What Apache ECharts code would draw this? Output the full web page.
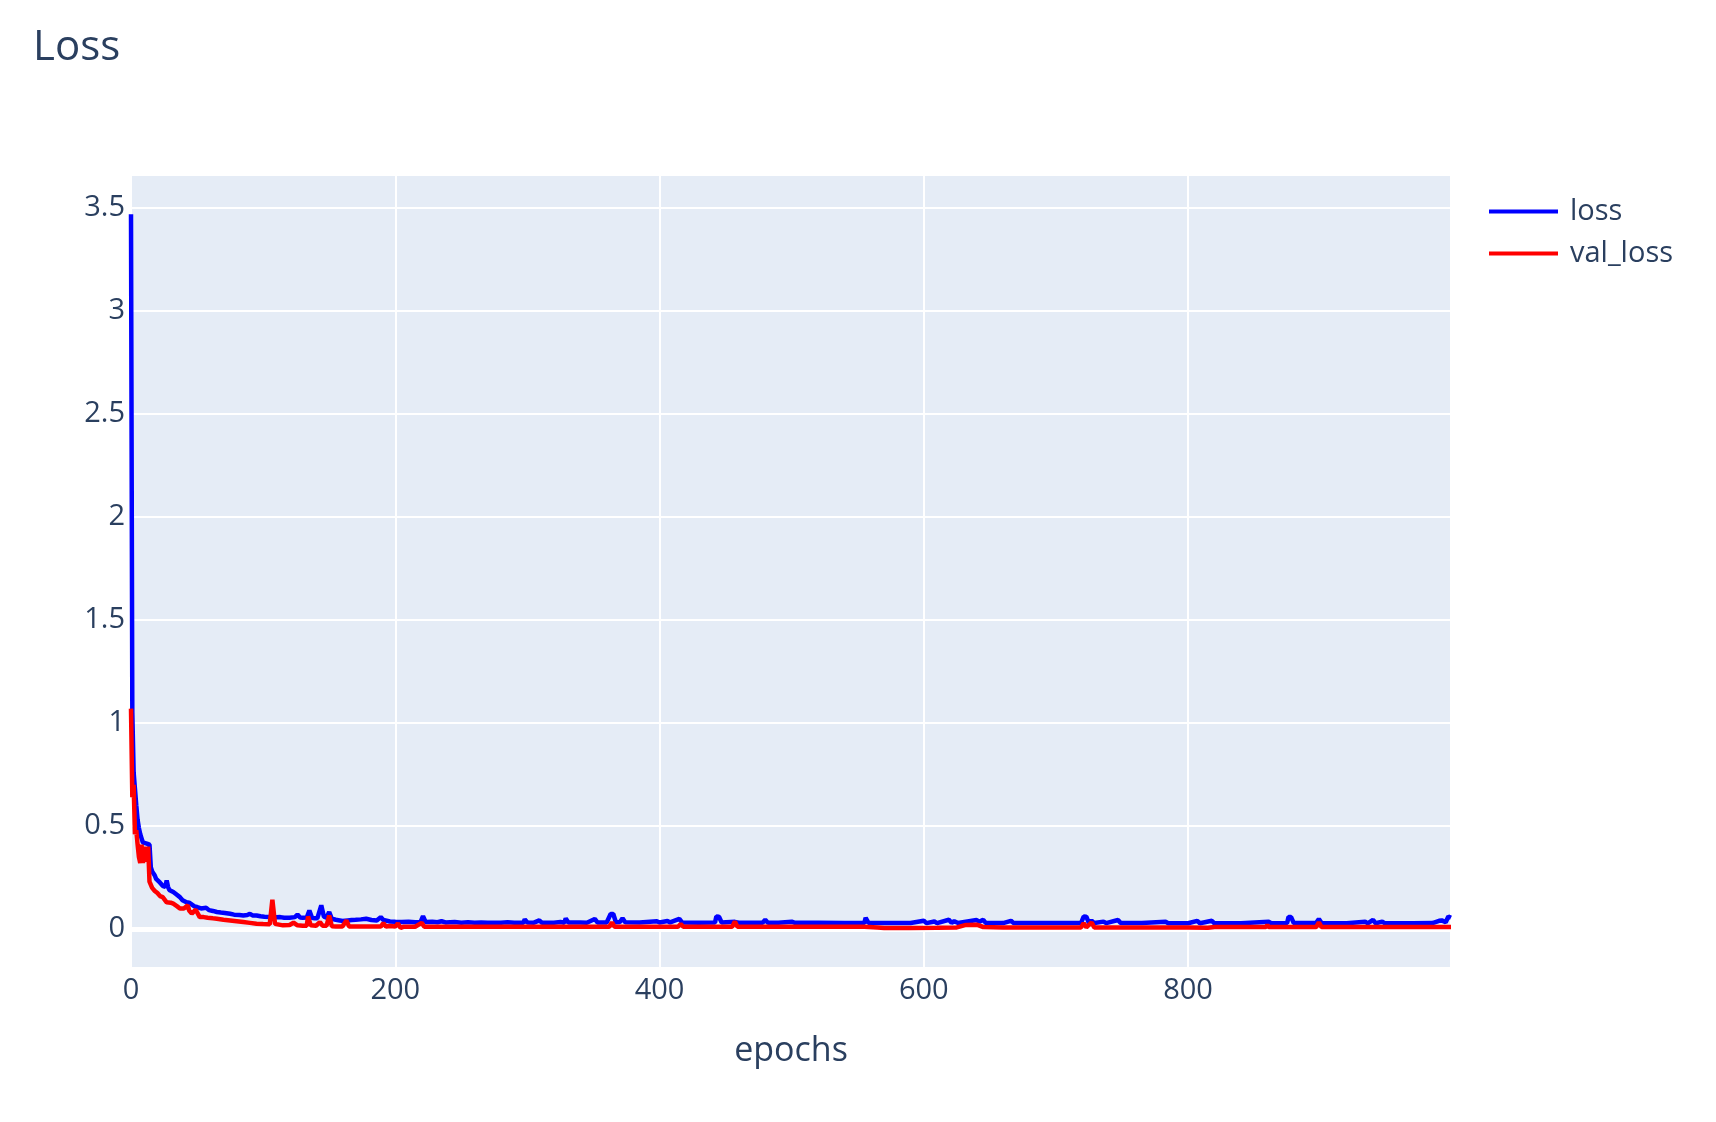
<!DOCTYPE html>
<html>
<head>
<meta charset="utf-8">
<script src="https://cdn.jsdelivr.net/npm/echarts@6.0.0/dist/echarts.min.js"></script>
<style>
html,body{margin:0;padding:0;background:#fff;}
#chart{width:1716px;height:1122px;}
</style>
</head>
<body>
<div id="chart"></div>
<script>
const titleText = "Loss";
const xAxisName = "epochs";
const seriesNames = ["loss", "val_loss"];

const lossEpochs = [0,1,2,3,4,5,6,7,8,9,10,12,14,15,16,18,19,22,24,26,27,28,29,32,34,37,39,42,44,45,48,50,53,57,59,62,65,68,71,75,78,82,85,88,90,92,95,98,101,105,108,110,113,116,120,124,126,128,130,133,135,137,139,141,144,146,148,150,152,155,158,160,164,167,170,174,178,182,186,189,191,196,200,205,210,215,219,221,223,228,232,235,238,245,250,255,260,265,270,280,285,290,297,298,300,305,309,311,320,325,328,329,331,340,345,351,353,360,363,365,367,370,372,374,385,398,400,406,408,415,417,430,442,443,445,447,457,460,478,480,482,490,500,502,520,540,555,556,558,570,590,600,602,608,610,619,621,623,626,640,642,645,647,660,666,668,690,705,719,721,723,725,727,729,736,738,747,749,765,783,785,800,807,809,818,820,840,861,863,875,876,878,880,897,899,901,920,934,936,940,942,947,949,970,985,990,992,995,997,999];
const lossValues = [3.47,1.05,0.76,0.68,0.6,0.53,0.49,0.46,0.44,0.42,0.415,0.415,0.41,0.30,0.28,0.26,0.244,0.225,0.21,0.205,0.236,0.205,0.19,0.18,0.17,0.155,0.14,0.13,0.128,0.12,0.11,0.107,0.1,0.103,0.092,0.088,0.083,0.08,0.078,0.074,0.07,0.068,0.066,0.068,0.074,0.066,0.066,0.062,0.06,0.058,0.06,0.057,0.058,0.055,0.055,0.058,0.07,0.056,0.055,0.056,0.09,0.055,0.052,0.052,0.115,0.06,0.055,0.083,0.05,0.045,0.042,0.039,0.042,0.044,0.045,0.047,0.05,0.044,0.042,0.058,0.044,0.037,0.035,0.034,0.036,0.033,0.033,0.063,0.034,0.036,0.033,0.038,0.032,0.034,0.031,0.033,0.031,0.032,0.031,0.031,0.033,0.031,0.031,0.047,0.032,0.031,0.042,0.031,0.031,0.034,0.031,0.052,0.032,0.032,0.031,0.049,0.032,0.032,0.073,0.073,0.033,0.034,0.052,0.033,0.032,0.038,0.032,0.039,0.032,0.049,0.032,0.031,0.032,0.061,0.06,0.032,0.035,0.031,0.031,0.045,0.031,0.031,0.036,0.031,0.031,0.030,0.030,0.055,0.031,0.030,0.029,0.040,0.029,0.037,0.029,0.045,0.03,0.038,0.029,0.044,0.035,0.045,0.029,0.029,0.04,0.029,0.029,0.029,0.029,0.061,0.06,0.029,0.04,0.029,0.036,0.029,0.044,0.029,0.029,0.035,0.028,0.028,0.04,0.028,0.04,0.028,0.028,0.035,0.028,0.03,0.058,0.058,0.029,0.03,0.049,0.029,0.028,0.036,0.028,0.045,0.028,0.036,0.028,0.028,0.029,0.04,0.042,0.033,0.061,0.055];

const valLossEpochs = [0,1,2,3,4,5,6,7,8,9,10,11,12,13,14,16,18,20,22,24,27,30,32,35,37,40,43,44,46,49,52,55,58,62,65,70,75,80,85,90,95,100,105,107,109,110,115,120,123,126,130,133,134,136,140,143,145,148,150,152,155,160,163,165,170,180,189,191,193,196,200,202,204,206,215,220,222,240,260,280,300,320,340,362,364,366,380,400,414,416,418,440,455,457,459,480,520,555,565,570,590,610,625,632,640,645,660,700,719,721,723,727,729,760,800,815,820,859,860,861,897,899,901,940,970,999];
const valLossValues = [1.07,0.64,0.7,0.46,0.48,0.41,0.35,0.32,0.41,0.32,0.40,0.34,0.33,0.40,0.23,0.2,0.185,0.175,0.16,0.155,0.13,0.128,0.123,0.11,0.1,0.1,0.115,0.09,0.075,0.094,0.058,0.058,0.055,0.052,0.05,0.045,0.042,0.038,0.034,0.03,0.026,0.024,0.023,0.142,0.025,0.018,0.018,0.02,0.031,0.018,0.016,0.016,0.061,0.018,0.016,0.034,0.016,0.016,0.066,0.014,0.013,0.013,0.042,0.013,0.012,0.012,0.012,0.029,0.012,0.015,0.012,0.028,0.006,0.011,0.011,0.03,0.011,0.011,0.011,0.011,0.011,0.011,0.011,0.011,0.032,0.011,0.011,0.011,0.011,0.025,0.011,0.011,0.011,0.036,0.011,0.011,0.011,0.011,0.008,0.005,0.005,0.006,0.008,0.02,0.021,0.01,0.008,0.008,0.008,0.029,0.008,0.032,0.008,0.008,0.007,0.006,0.01,0.01,0.02,0.01,0.01,0.032,0.01,0.01,0.01,0.01];

const toPairs = (xs, ys) => xs.map((x, i) => [x, ys[i]]);

const textColor = "#2a3f5f";
const fontFamily = "'Open Sans', verdana, arial, sans-serif";

const chart = echarts.init(document.getElementById('chart'), null, {renderer: 'canvas'});
chart.setOption({
  animation: false,
  backgroundColor: '#ffffff',
  textStyle: {fontFamily: fontFamily, color: textColor},
  title: {
    text: titleText,
    left: 28,
    top: 22,
    textStyle: {fontFamily: fontFamily, fontSize: 42, fontWeight: 'normal', color: textColor}
  },
  legend: {
    orient: 'vertical',
    left: 1484,
    top: 192,
    itemWidth: 69,
    itemHeight: 4,
    itemGap: 13,
    icon: 'rect',
    textStyle: {fontFamily: fontFamily, fontSize: 29, color: textColor, padding: [0, 0, 0, 7]},
    data: seriesNames
  },
  grid: {
    left: 131,
    right: 265,
    top: 175,
    bottom: 154,
    show: true,
    backgroundColor: '#E5ECF6',
    borderWidth: 0,
    containLabel: false
  },
  xAxis: {
    type: 'value',
    min: 0,
    max: 999,
    splitNumber: 5,
    name: xAxisName,
    nameLocation: 'middle',
    nameGap: 66,
    nameTextStyle: {fontFamily: fontFamily, fontSize: 34, color: textColor},
    axisLine: {show: false},
    axisTick: {show: false},
    axisLabel: {fontFamily: fontFamily, fontSize: 29, color: textColor, margin: 8, showMaxLabel: false},
    splitLine: {show: true, lineStyle: {color: '#ffffff', width: 2}}
  },
  yAxis: {
    type: 'value',
    min: -0.189,
    max: 3.66,
    splitNumber: 8,
    axisLine: {show: false},
    axisTick: {show: false},
    axisLabel: {fontFamily: fontFamily, fontSize: 29, color: textColor, margin: 6, showMinLabel: false, showMaxLabel: false},
    splitLine: {show: true, lineStyle: {color: '#ffffff', width: 2}}
  },
  series: [
    {
      name: seriesNames[0],
      type: 'line',
      data: toPairs(lossEpochs, lossValues),
      showSymbol: false,
      symbol: 'none',
      lineStyle: {color: '#0000ff', width: 4.5},
      itemStyle: {color: '#0000ff'},
      z: 3,
      markLine: {
        silent: true,
        symbol: 'none',
        z: 1,
        label: {show: false},
        lineStyle: {color: '#ffffff', width: 5, type: 'solid'},
        data: [{yAxis: 0}]
      }
    },
    {
      name: seriesNames[1],
      type: 'line',
      data: toPairs(valLossEpochs, valLossValues),
      showSymbol: false,
      symbol: 'none',
      lineStyle: {color: '#ff0000', width: 4.5},
      itemStyle: {color: '#ff0000'},
      z: 4
    }
  ]
});
</script>
</body>
</html>
